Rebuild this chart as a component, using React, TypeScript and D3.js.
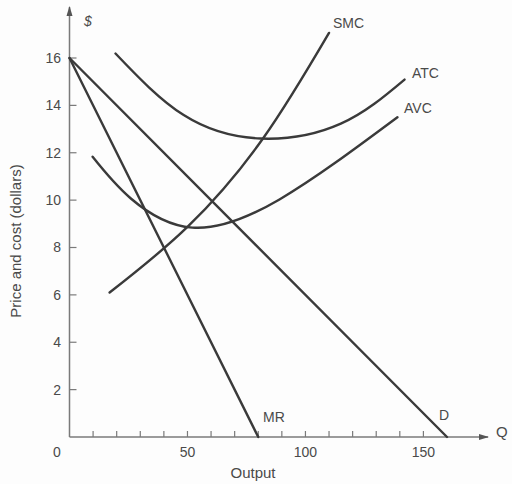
import { useMemo } from "react";
import * as d3 from "d3";

// Demand and marginal revenue (straight lines)
const demandQ = [0, 160];
const demandP = [16, 0];
const mrQ = [0, 80];
const mrP = [16, 0];

// Cost curves (a few anchor points each)
const smcQ = [17, 50, 82, 110];
const smcP = [6.1, 8.87, 12.6, 17.06];
const atcQ = [19.5, 48.4, 81, 115, 142];
const atcP = [16.19, 13.59, 12.6, 13.23, 15.09];
const avcQ = [9.8, 26, 52, 89, 139];
const avcP = [11.83, 10.07, 8.84, 10.03, 13.5];

const yTicks = [2, 4, 6, 8, 10, 12, 14, 16];
const xTickLabels = [50, 100, 150];
const xMinorTicks = d3.range(10, 151, 10);

const W = 512;
const H = 484;
const INK = "#3a3a3a";
const AXIS = "#7a7a7a";
const TEXT = "#4a4a4a";
const FONT = "'Liberation Sans', Arial, sans-serif";

export default function App() {
  const x = useMemo(() => d3.scaleLinear().domain([0, 160]).range([69.5, 447]), []);
  const y = useMemo(() => d3.scaleLinear().domain([0, 16]).range([437, 58]), []);

  const line = d3
    .line<[number, number]>()
    .x((d) => x(d[0]))
    .y((d) => y(d[1]));
  const curve = d3
    .line<[number, number]>()
    .x((d) => x(d[0]))
    .y((d) => y(d[1]))
    .curve(d3.curveNatural);

  const zip = (q: number[], p: number[]) => q.map((v, i) => [v, p[i]] as [number, number]);

  const x0 = x(0);
  const y0 = y(0);

  return (
    <svg
      width={W}
      height={H}
      style={{ position: "absolute", left: 0, top: 0, background: "#fdfdfd" }}
      fontFamily={FONT}
    >
      <defs>
        <marker id="arr" viewBox="0 0 10 10" refX="9" refY="5" markerWidth="7" markerHeight="7" orient="auto">
          <path d="M0,2 L10,5 L0,8 Z" fill="#555" />
        </marker>
      </defs>

      {/* axes */}
      <line x1={x0} y1={y0} x2={488} y2={y0} stroke={AXIS} strokeWidth={1.5} markerEnd="url(#arr)" />
      <line x1={x0} y1={y0} x2={x0} y2={7} stroke={AXIS} strokeWidth={1.5} markerEnd="url(#arr)" />

      {xMinorTicks.map((t) => (
        <line key={t} x1={x(t)} x2={x(t)} y1={y0} y2={y0 - 6} stroke={AXIS} strokeWidth={1.2} />
      ))}
      {yTicks.map((t) => (
        <g key={t}>
          <line x1={x0} x2={x0 + 7} y1={y(t)} y2={y(t)} stroke={AXIS} strokeWidth={1.2} />
          <text x={61} y={y(t)} dy="0.35em" textAnchor="end" fontSize={14} fill={TEXT}>
            {t}
          </text>
        </g>
      ))}
      {xTickLabels.map((t) => (
        <text key={t} x={x(t)} y={457} textAnchor="middle" fontSize={14} fill={TEXT}>
          {t}
        </text>
      ))}
      <text x={57} y={457} textAnchor="middle" fontSize={14} fill={TEXT}>0</text>

      <text x={253} y={478} textAnchor="middle" fontSize={15} fill={TEXT}>Output</text>
      <text
        transform="translate(21,241) rotate(-90)"
        textAnchor="middle"
        fontSize={15}
        fill={TEXT}
      >
        Price and cost (dollars)
      </text>
      <text x={84} y={26} fontSize={14} fontStyle="italic" fill={TEXT}>$</text>
      <text x={496} y={437} fontSize={15} fill={TEXT}>Q</text>

      {/* curves */}
      <g fill="none" stroke={INK} strokeWidth={2.4} strokeLinecap="round">
        <path d={line(zip(demandQ, demandP)) ?? ""} />
        <path d={line(zip(mrQ, mrP)) ?? ""} />
        <path d={curve(zip(smcQ, smcP)) ?? ""} />
        <path d={curve(zip(atcQ, atcP)) ?? ""} />
        <path d={curve(zip(avcQ, avcP)) ?? ""} />
      </g>

      {/* curve labels */}
      <g fontSize={14} fill={TEXT}>
        <text x={333} y={28}>SMC</text>
        <text x={412} y={78}>ATC</text>
        <text x={404} y={113}>AVC</text>
        <text x={263} y={422}>MR</text>
        <text x={439} y={420}>D</text>
      </g>
    </svg>
  );
}
